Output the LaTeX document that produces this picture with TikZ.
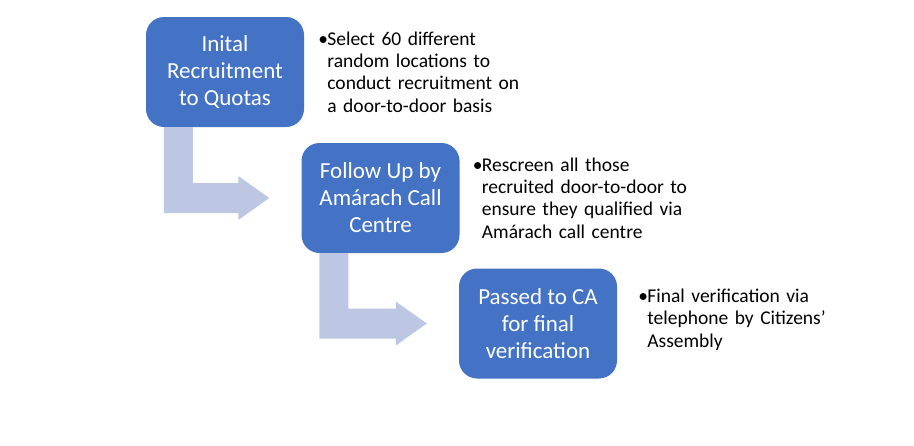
\documentclass[tikz,border=0pt]{standalone}
\usepackage{fontspec}
\setmainfont{Carlito}
\usetikzlibrary{positioning,calc}

\definecolor{stageblue}{HTML}{4472C4}
\definecolor{bendblue}{HTML}{BDC7E3}
% bullet with the following lines hung under the text
\newcommand\bul[1]{{\leftskip=9pt\hspace*{-9pt}\makebox[9pt][l]{\textbullet}#1\par}}

\begin{document}
\begin{tikzpicture}[x=1pt,y=-1pt,
    stage/.style={fill=stageblue,rounded corners=18pt,minimum width=158pt,
      minimum height=110pt,align=center,text=white,
      font=\fontsize{23}{27}\selectfont},
    note/.style={text width=240pt,align=left,inner sep=0pt,
      font=\fontsize{19.5}{22.3}\selectfont}]
  \useasboundingbox (0,0) rectangle (914,445) ;
  \node[stage] (recruit) at (225,72) {Inital\\Recruitment\\to Quotas} ;
  \node[stage] (followup) at (380.5,198) {Follow Up by\\Amárach Call\\Centre} ;
  \node[stage] (passed) at (538,323.5) {Passed to CA\\for final\\verification} ;
  \node[note,right=14pt of recruit] (recruitnote) %
    {\bul{Select 60 different\\random locations to\\conduct recruitment on\\a door-to-door basis}} ;
  \node[note,right=13pt of followup] (followupnote) %
    {\bul{Rescreen all those\\recruited door-to-door to\\ensure they qualified via\\Amárach call centre}} ;
  \node[note,right=21pt of passed,yshift=4pt] (passednote) %
    {\bul{Final verification via\\telephone by Citizens'\\Assembly}} ;
  % bent arrows stepping down to the next stage
  \foreach \from/\to in {recruit/followup,followup/passed}
    \fill[bendblue] let \p1=(\from.south west), \p2=(\to.west) in
      (\x1+18pt,\y1) -- (\x1+47pt,\y1) -- (\x1+47pt,\y2+15pt)
      -- (\x2-63pt,\y2+15pt) -- (\x2-63pt,\y2+22pt) -- (\x2-32pt,\y2)
      -- (\x2-63pt,\y2-22pt) -- (\x2-63pt,\y2-15pt) -- (\x1+18pt,\y2-15pt)
      -- cycle ;
\end{tikzpicture}
\end{document}
